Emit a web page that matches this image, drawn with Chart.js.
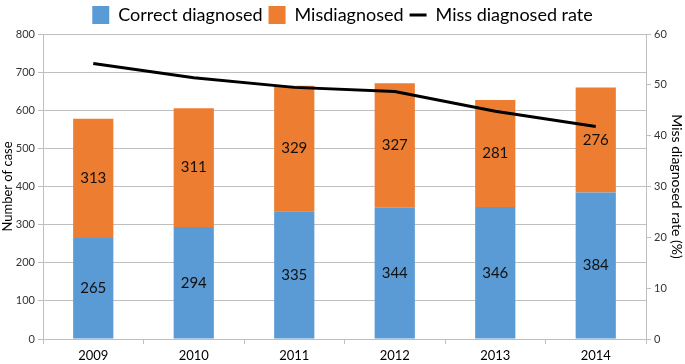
<!DOCTYPE html>
<html>
<head>
<meta charset="utf-8">
<script src="https://cdn.jsdelivr.net/npm/chart.js@4"></script>
<style>
  html, body { margin: 0; padding: 0; background: #fff; }
  #wrap { width: 685px; height: 364px; }
</style>
</head>
<body>
<div id="wrap"><canvas id="chart"></canvas></div>
<script>
const years = ['2009', '2010', '2011', '2012', '2013', '2014'];
const correct = [265, 294, 335, 344, 346, 384];
const misdiagnosed = [313, 311, 329, 327, 281, 276];
const missRate = [54.2, 51.4, 49.5, 48.7, 44.8, 41.8];

const font = 'Lato, "Open Sans", sans-serif';

// draw the numbers in the middle of each bar segment
const barLabels = {
    id: 'barLabels',
    afterDatasetsDraw(chart) {
        const ctx = chart.ctx;
        ctx.save();
        ctx.font = '15px ' + font;
        ctx.fillStyle = '#111';
        ctx.textAlign = 'center';
        ctx.textBaseline = 'middle';
        chart.data.datasets.forEach((ds, i) => {
            if (ds.type === 'line') return;
            chart.getDatasetMeta(i).data.forEach((el, j) => {
                ctx.fillText(ds.data[j], el.x, (el.y + el.base) / 2);
            });
        });
        ctx.restore();
    }
};

new Chart(document.getElementById('chart'), {
    data: {
        labels: years,
        datasets: [
            {
                type: 'line',
                label: 'Miss diagnosed rate',
                data: missRate,
                yAxisID: 'y2',
                borderColor: '#000',
                backgroundColor: '#000',
                borderWidth: 3,
                pointRadius: 0,
                tension: 0,
                order: 0,
                pointStyle: 'line'
            },
            {
                type: 'bar',
                label: 'Correct diagnosed',
                data: correct,
                backgroundColor: '#5B9BD5',
                yAxisID: 'y',
                barPercentage: 0.4,
                categoryPercentage: 1,
                order: 1,
                pointStyle: 'rect'
            },
            {
                type: 'bar',
                label: 'Misdiagnosed',
                data: misdiagnosed,
                backgroundColor: '#ED7D31',
                yAxisID: 'y',
                barPercentage: 0.4,
                categoryPercentage: 1,
                order: 1,
                pointStyle: 'rect'
            }
        ]
    },
    options: {
        responsive: true,
        maintainAspectRatio: false,
        animation: false,
        layout: { padding: 0 },
        plugins: {
            tooltip: { enabled: false },
            legend: {
                position: 'top',
                labels: {
                    usePointStyle: true,
                    pointStyleWidth: 17,
                    color: '#000',
                    font: { family: font, size: 18 },
                    padding: 6,
                    sort: (a, b) => [1, 2, 0].indexOf(a.datasetIndex) - [1, 2, 0].indexOf(b.datasetIndex)
                }
            }
        },
        scales: {
            x: {
                stacked: true,
                afterFit: s => { s.height = 25; },
                grid: { offset: true, drawOnChartArea: false, drawTicks: true, tickLength: 5, color: '#bfbfbf' },
                border: { color: '#bfbfbf' },
                ticks: { color: '#000', font: { family: font, size: 13 }, padding: 4 }
            },
            y: {
                stacked: true,
                position: 'left',
                min: 0,
                max: 800,
                afterFit: s => { s.width = 43; },
                ticks: { stepSize: 100, color: '#333', font: { family: font, size: 11 }, padding: 3 },
                grid: { color: '#bfbfbf', tickLength: 5 },
                border: { color: '#bfbfbf' },
                title: { display: true, text: 'Number of case', color: '#000', font: { family: font, size: 13 }, padding: 0 }
            },
            y2: {
                position: 'right',
                min: 0,
                max: 60,
                afterFit: s => { s.width = 39; },
                ticks: { stepSize: 10, color: '#333', font: { family: font, size: 11 }, padding: 3 },
                grid: { drawOnChartArea: false, color: '#bfbfbf', tickLength: 5 },
                border: { color: '#bfbfbf' },
                title: { display: true, text: 'Miss diagnosed rate (%)', color: '#000', font: { family: font, size: 14 }, padding: 0 }
            }
        }
    },
    plugins: [barLabels]
});
</script>
</body>
</html>
